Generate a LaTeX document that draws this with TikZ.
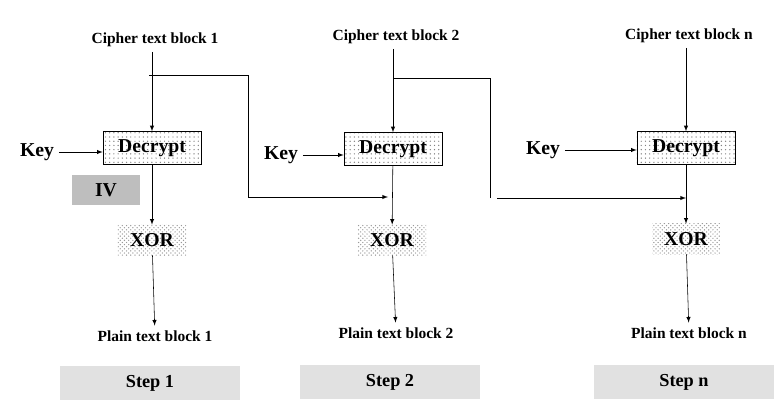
\documentclass[tikz,border=0pt]{standalone}
\usepackage{fontspec}
\setmainfont{Liberation Serif}
\usetikzlibrary{patterns}
\definecolor{ivgray}{RGB}{190,190,190}
\definecolor{stepgray}{RGB}{225,225,225}
\tikzset{
  lbl/.style={font=\bfseries\fontsize{11}{13}\selectfont},
  keylbl/.style={font=\bfseries\fontsize{14}{16}\selectfont},
  dec/.style={draw,pattern=dots,pattern color=gray,minimum width=2.45cm,minimum height=0.82cm,font=\bfseries\fontsize{14}{16}\selectfont},
  xor/.style={pattern=crosshatch dots,pattern color=gray!80,minimum width=1.7cm,minimum height=0.75cm,font=\bfseries\fontsize{14}{16}\selectfont},
  stepbox/.style={fill=stepgray,minimum width=4.5cm,minimum height=0.85cm,font=\bfseries\fontsize{13}{15}\selectfont},
  arr/.style={-latex}
}
\begin{document}
\begin{tikzpicture}[x=0.025cm,y=-0.025cm]
  \useasboundingbox (0,0) rectangle (782,407);
  % column 1
  \node[lbl] (c1) at (155,40) {Cipher text block 1};
  \node[dec] (d1) at (152,148) {Decrypt};
  \node[keylbl] (k1) at (37,152) {Key};
  \node[fill=ivgray,minimum width=1.68cm,minimum height=0.75cm,font=\bfseries\fontsize{14}{16}\selectfont] (iv) at (106,190) {IV};
  \node[xor] (x1) at (152,240) {XOR};
  \node[lbl] (p1) at (155,336) {Plain text block 1};
  \node[stepbox] (s1) at (150,383) {Step 1};
  % column 2
  \node[lbl] (c2) at (396,37) {Cipher text block 2};
  \node[dec] (d2) at (393,149) {Decrypt};
  \node[keylbl] (k2) at (281,155) {Key};
  \node[xor] (x2) at (392,240) {XOR};
  \node[lbl] (p2) at (396,333) {Plain text block 2};
  \node[stepbox] (s2) at (390,382) {Step 2};
  % column n
  \node[lbl] (c3) at (689,36) {Cipher text block n};
  \node[dec] (d3) at (686,148) {Decrypt};
  \node[keylbl] (k3) at (543,150) {Key};
  \node[xor] (x3) at (686,239) {XOR};
  \node[lbl] (p3) at (689,333) {Plain text block n};
  \node[stepbox] (s3) at (684,382) {Step n};
  % connectors
  \draw[arr] (c1.south -| d1) -- (d1);
  \draw[arr] (d1) -- (x1);
  \draw[arr] (x1) -- (p1);
  \draw[arr] (k1) -- (d1.west |- k1);
  \draw[arr] (c2.south -| d2) -- (d2);
  \draw[arr] (d2) -- (x2);
  \draw[arr] (x2) -- (p2);
  \draw[arr] (k2) -- (d2.west |- k2);
  \draw[arr] (c3.south -| d3) -- (d3);
  \draw[arr] (d3) -- (x3);
  \draw[arr] (x3) -- (p3);
  \draw[arr] (k3) -- (d3.west |- k3);
  % chaining
  \coordinate (b1) at (149,75);
  \coordinate (b2) at (393,78);
  \coordinate (g1) at (490,198);
  \coordinate (g2) at (497,198);
  \draw[arr] (b1) -- (248,75) -- (248,197) -- (388,197);
  \draw (b2) -- (490,78) -- (g1);
  \draw[arr] (g2) -- (d3.south |- g2);
\end{tikzpicture}
\end{document}
